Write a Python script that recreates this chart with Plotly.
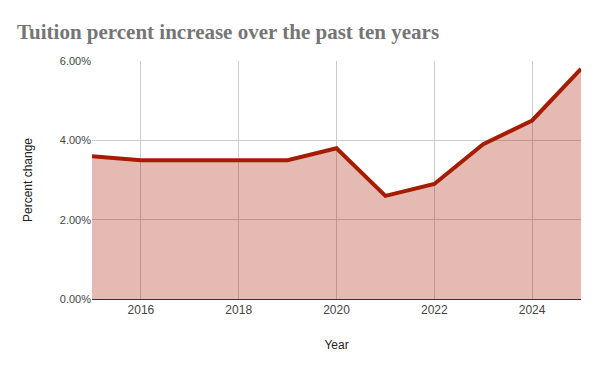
import plotly.graph_objects as go

years = [2015, 2016, 2017, 2018, 2019, 2020, 2021, 2022, 2023, 2024, 2025]
pct_change = [3.6, 3.5, 3.5, 3.5, 3.5, 3.8, 2.6, 2.9, 3.9, 4.5, 5.8]

fig = go.Figure()
fig.add_trace(go.Scatter(
    x=years, y=[v / 100 for v in pct_change],
    mode="lines", fill="tozeroy",
    line=dict(color="#a61c00", width=4),
    fillcolor="rgba(166,28,0,0.3)",
    hoverinfo="skip",
))

fig.update_layout(
    width=592, height=363,
    margin=dict(l=84, r=19, t=53, b=72),
    paper_bgcolor="white", plot_bgcolor="white",
    showlegend=False,
    title=dict(text="<b>Tuition percent increase over the past ten years</b>",
               x=9/592, xanchor="left", y=1 - 24/363, yanchor="middle",
               font=dict(family="Liberation Serif", size=21, color="#757575")),
    font=dict(family="Liberation Sans, Arial", size=11, color="#444444"),
)
fig.update_xaxes(
    range=[2015, 2025], tick0=2016, dtick=2,
    showgrid=True, gridcolor="#cccccc", gridwidth=1,
    showline=True, linecolor="#333333", linewidth=1,
    ticks="", zeroline=False,
    title=dict(text="Year", font=dict(size=12, color="#222222"), standoff=24),
    tickfont=dict(size=12, color="#444444"),
)
fig.update_yaxes(
    range=[0, 0.06], dtick=0.02, tickformat=".2%",
    showgrid=True, gridcolor="#cccccc", gridwidth=1,
    zeroline=False, ticks="", showline=False,
    title=dict(text="Percent change", font=dict(size=12, color="#222222"), standoff=24),
    tickfont=dict(size=11, color="#444444"),
)

fig.write_html("out.html")
